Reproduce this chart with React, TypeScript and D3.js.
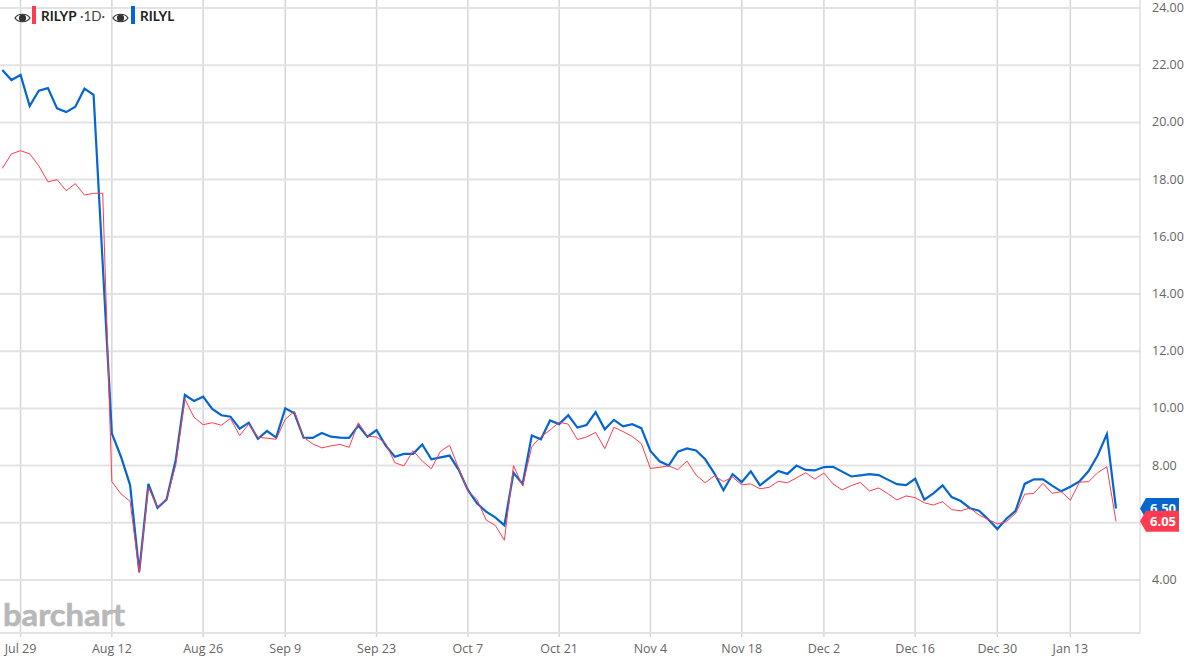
import React, { useEffect, useRef } from "react";
import * as d3 from "d3";

const width = 1188;
const height = 657;
const plotRight = 1140;
const plotBottom = 633;

const dates = [
  "Jul 25", "Jul 26", "Jul 29", "Jul 30", "Jul 31", "Aug 1", "Aug 2", "Aug 5", "Aug 6", "Aug 7", "Aug 8", "Aug 9",
  "Aug 12", "Aug 13", "Aug 14", "Aug 15", "Aug 16", "Aug 19", "Aug 20", "Aug 21", "Aug 22", "Aug 23",
  "Aug 26", "Aug 27", "Aug 28", "Aug 29", "Aug 30", "Sep 3", "Sep 4", "Sep 5", "Sep 6",
  "Sep 9", "Sep 10", "Sep 11", "Sep 12", "Sep 13", "Sep 16", "Sep 17", "Sep 18", "Sep 19", "Sep 20",
  "Sep 23", "Sep 24", "Sep 25", "Sep 26", "Sep 27", "Sep 30", "Oct 1", "Oct 2", "Oct 3", "Oct 4",
  "Oct 7", "Oct 8", "Oct 9", "Oct 10", "Oct 11", "Oct 14", "Oct 15", "Oct 16", "Oct 17", "Oct 18",
  "Oct 21", "Oct 22", "Oct 23", "Oct 24", "Oct 25", "Oct 28", "Oct 29", "Oct 30", "Oct 31", "Nov 1",
  "Nov 4", "Nov 5", "Nov 6", "Nov 7", "Nov 8", "Nov 11", "Nov 12", "Nov 13", "Nov 14", "Nov 15",
  "Nov 18", "Nov 19", "Nov 20", "Nov 21", "Nov 22", "Nov 25", "Nov 26", "Nov 27", "Nov 29",
  "Dec 2", "Dec 3", "Dec 4", "Dec 5", "Dec 6", "Dec 9", "Dec 10", "Dec 11", "Dec 12", "Dec 13",
  "Dec 16", "Dec 17", "Dec 18", "Dec 19", "Dec 20", "Dec 23", "Dec 24", "Dec 26", "Dec 27",
  "Dec 30", "Dec 31", "Jan 2", "Jan 3", "Jan 6", "Jan 7", "Jan 8", "Jan 10",
  "Jan 13", "Jan 14", "Jan 15", "Jan 16", "Jan 17", "Jan 21",
];

const rilyp = [
  18.39, 18.9, 19.01, 18.9, 18.48, 17.92, 18.0, 17.61, 17.86, 17.46, 17.52, 17.52,
  7.44, 7.01, 6.75, 4.25, 7.24, 6.56, 6.82, 8.02, 10.33, 9.69,
  9.43, 9.5, 9.41, 9.65, 9.05, 9.45, 8.99, 8.96, 8.92,
  9.62, 9.9, 8.99, 8.76, 8.62, 8.69, 8.74, 8.64, 9.5, 9.03,
  9.0, 8.78, 8.1, 7.99, 8.52, 8.16, 7.89, 8.5, 8.71, 7.9,
  7.11, 6.82, 6.1, 5.91, 5.39, 8.0, 7.29, 8.66, 9.01, 9.24,
  9.52, 9.45, 8.91, 9.0, 9.16, 8.59, 9.34, 9.19, 9.02, 8.77,
  7.9, 7.94, 7.99, 7.86, 8.16, 7.67, 7.4, 7.64, 7.44, 7.6,
  7.33, 7.36, 7.19, 7.24, 7.45, 7.4, 7.57, 7.75, 7.53,
  7.74, 7.36, 7.15, 7.3, 7.41, 7.11, 7.22, 7.02, 6.8, 6.94,
  6.88, 6.7, 6.62, 6.74, 6.46, 6.42, 6.52, 6.27, 6.12,
  5.96, 6.04, 6.33, 7.0, 7.03, 7.38, 7.03, 7.09,
  6.79, 7.42, 7.44, 7.75, 7.96, 6.05,
];

const rilyl = [
  21.83, 21.48, 21.66, 20.57, 21.11, 21.2, 20.49, 20.36, 20.55, 21.18, 20.96, 15.05,
  9.13, 8.31, 7.32, 4.29, 7.36, 6.52, 6.82, 8.2, 10.47, 10.26,
  10.41, 9.98, 9.76, 9.71, 9.29, 9.5, 8.94, 9.21, 8.98,
  10.0, 9.83, 8.98, 8.97, 9.14, 9.01, 8.98, 8.97, 9.4, 9.01,
  9.24, 8.7, 8.31, 8.41, 8.41, 8.74, 8.22, 8.29, 8.35, 7.85,
  7.15, 6.68, 6.39, 6.19, 5.91, 7.75, 7.36, 9.05, 8.92, 9.58,
  9.45, 9.76, 9.33, 9.42, 9.87, 9.27, 9.6, 9.37, 9.45, 9.31,
  8.51, 8.15, 8.0, 8.49, 8.6, 8.53, 8.22, 7.73, 7.14, 7.7,
  7.42, 7.8, 7.31, 7.56, 7.81, 7.71, 8.0, 7.85, 7.83,
  7.95, 7.96, 7.79, 7.62, 7.66, 7.7, 7.67, 7.51, 7.35, 7.32,
  7.54, 6.81, 7.03, 7.31, 6.9, 6.76, 6.51, 6.42, 6.12,
  5.78, 6.14, 6.42, 7.36, 7.52, 7.52, 7.3, 7.1,
  7.26, 7.45, 7.81, 8.36, 9.1, 6.5,
];

const dateTicks = ["Jul 29", "Aug 12", "Aug 26", "Sep 9", "Sep 23", "Oct 7", "Oct 21", "Nov 4", "Nov 18", "Dec 2", "Dec 16", "Dec 30", "Jan 13"];
const priceTicks = [4, 6, 8, 10, 12, 14, 16, 18, 20, 22, 24];

const redColor = "#ff3b4f";
const blueColor = "#0566d0";

const eyePath = "M0 0C3-5 12-5 15 0C12 5 3 5 0 0Z";

const Eye = ({ x, y }: { x: number; y: number }) => (
  <g transform={`translate(${x},${y})`}>
    <path d={eyePath} fill="none" stroke="#333" strokeWidth={1.2} />
    <circle cx={7.5} cy={0} r={3.6} fill="#333" />
  </g>
);

const App = () => {
  const svgRef = useRef<SVGSVGElement>(null);

  useEffect(() => {
    if (!svgRef.current) return;
    const svg = d3.select(svgRef.current);
    svg.select(".axes").selectAll("*").remove();
    svg.select(".lines").selectAll("*").remove();
    svg.select(".tags").selectAll("*").remove();

    const x = d3.scalePoint<string>().domain(dates).range([2.3, 1116]);
    const y = d3.scaleLinear().domain([4, 24]).range([580, 8]);

    const axes = svg.select(".axes");

    // Vertical grid and date labels
    const xAxis = axes
      .append("g")
      .attr("transform", `translate(0,${plotBottom})`)
      .call(d3.axisBottom(x).tickValues(dateTicks).tickSize(4).tickPadding(7).tickSizeOuter(0).offset(0));
    xAxis.select(".domain").remove();
    xAxis
      .selectAll(".tick line")
      .clone()
      .attr("y2", -plotBottom);
    xAxis.selectAll(".tick line").attr("stroke", "#d6d6d6").attr("stroke-width", 1.5);
    xAxis
      .selectAll("text")
      .attr("fill", "#666")
      .style("font-family", "'Open Sans'")
      .style("font-size", "12.5px");

    // Horizontal grid and price labels
    const yAxis = axes
      .append("g")
      .attr("transform", `translate(${plotRight},0)`)
      .call(d3.axisRight(y).tickValues(priceTicks).tickFormat(d3.format(".2f")).tickSize(0).tickPadding(12).offset(0));
    yAxis.select(".domain").remove();
    yAxis
      .selectAll(".tick line")
      .attr("x2", -plotRight)
      .attr("stroke", "#e3e3e3")
      .attr("stroke-width", 2);
    yAxis
      .selectAll("text")
      .attr("fill", "#666")
      .style("font-family", "'Open Sans'")
      .style("font-size", "12.5px");

    axes
      .append("line")
      .attr("x1", 0)
      .attr("x2", plotRight)
      .attr("y1", plotBottom)
      .attr("y2", plotBottom)
      .attr("stroke", "#e3e3e3")
      .attr("stroke-width", 2);
    axes
      .append("line")
      .attr("x1", plotRight)
      .attr("x2", plotRight)
      .attr("y1", 0)
      .attr("y2", plotBottom)
      .attr("stroke", "#d0d0d0")
      .attr("stroke-width", 1);

    const line = d3
      .line<number>()
      .x((d, i) => x(dates[i]) as number)
      .y((d) => y(d));

    // Red runs over blue where they cross
    const lines = svg.select(".lines");
    lines
      .append("path")
      .datum(rilyl)
      .attr("fill", "none")
      .attr("stroke", blueColor)
      .attr("stroke-width", 2.2)
      .attr("d", line);
    lines
      .append("path")
      .datum(rilyp)
      .attr("fill", "none")
      .attr("stroke", redColor)
      .attr("stroke-width", 1)
      .attr("d", line);

    // Last price tags, red sits on top of blue
    const tags = svg.select(".tags");
    const lastTags = [
      { value: rilyl[rilyl.length - 1], color: blueColor },
      { value: rilyp[rilyp.length - 1], color: redColor },
    ];
    lastTags.forEach((t) => {
      const cy = y(t.value);
      tags
        .append("path")
        .attr("d", `M${plotRight} ${cy}L${plotRight + 6} ${cy - 10.5}H1179V${cy + 10.5}H${plotRight + 6}Z`)
        .attr("fill", t.color);
      tags
        .append("text")
        .attr("x", 1150)
        .attr("y", cy + 4.5)
        .attr("fill", "#fff")
        .style("font-family", "'Open Sans'")
        .style("font-size", "13px")
        .style("font-weight", 700)
        .text(d3.format(".2f")(t.value));
    });
  }, []);

  return (
    <svg
      ref={svgRef}
      width={width}
      height={height}
      style={{ position: "absolute", left: 0, top: 0, background: "#fff" }}
    >
      <g className="axes" />
      <text
        x={3}
        y={626}
        fill="#b8b8b8"
        stroke="#b8b8b8"
        strokeWidth={0.6}
        textLength={122}
        lengthAdjust="spacingAndGlyphs"
        style={{ fontFamily: "Lato", fontSize: 31, fontWeight: 700 }}
      >
        barchart
      </text>
      <g className="lines" />
      <g className="tags" />
      <Eye x={15} y={18} />
      <rect x={32} y={6} width={4} height={18} fill={redColor} />
      <text x={41} y={21} fill="#222" style={{ fontFamily: "Lato", fontSize: 13.5, fontWeight: 700 }}>
        RILYP
      </text>
      <text x={80} y={21} fill="#444" style={{ fontFamily: "Lato", fontSize: 13.5 }}>
        ·1D·
      </text>
      <Eye x={113} y={18} />
      <rect x={131} y={6} width={4} height={18} fill={blueColor} />
      <text x={140} y={21} fill="#222" style={{ fontFamily: "Lato", fontSize: 13.5, fontWeight: 700 }}>
        RILYL
      </text>
    </svg>
  );
};

export default App;
